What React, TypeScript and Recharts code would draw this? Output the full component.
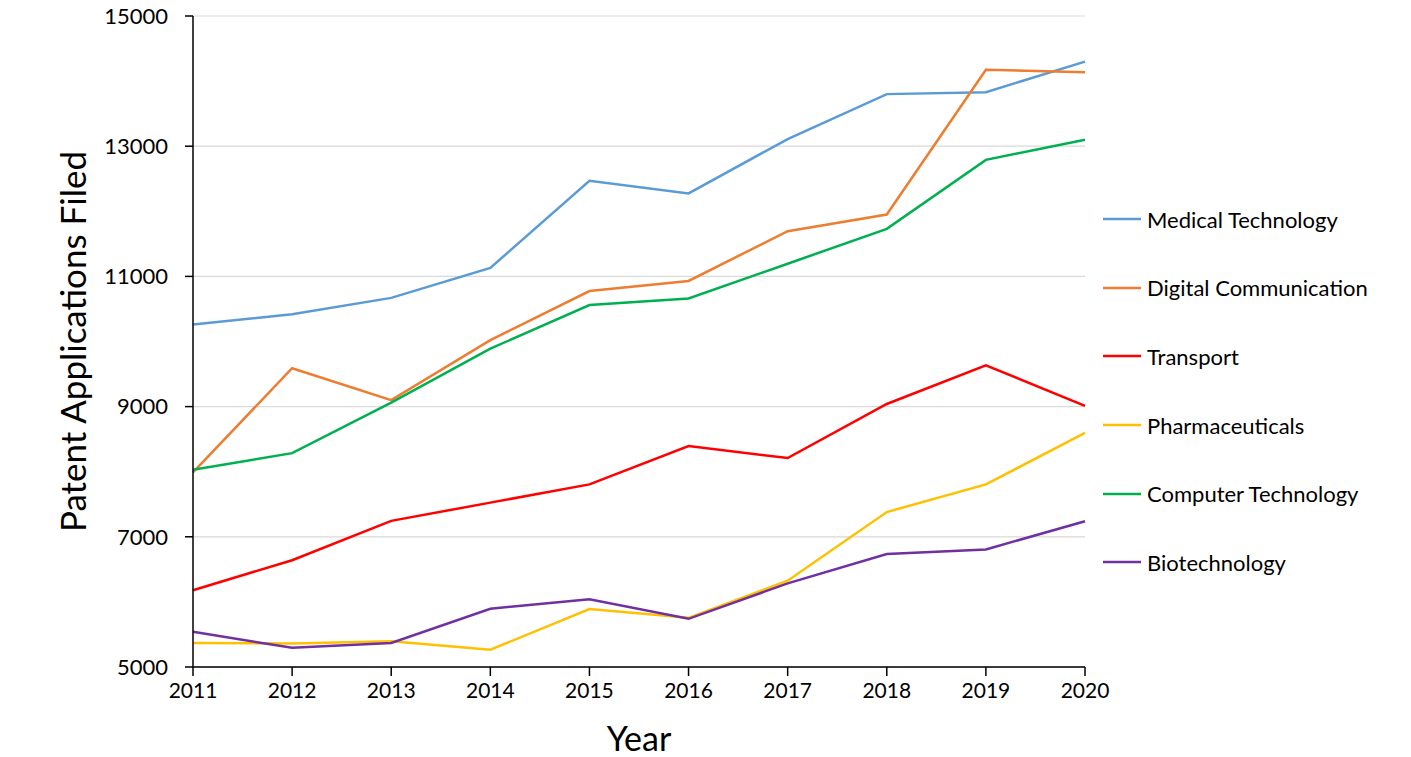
import { LineChart, Line, XAxis, YAxis, CartesianGrid, Legend } from 'recharts'

const years = ['2011', '2012', '2013', '2014', '2015', '2016', '2017', '2018', '2019', '2020']

const medicalTechnology = [10260, 10420, 10670, 11130, 12470, 12275, 13110, 13800, 13830, 14300]
const digitalCommunication = [7990, 9590, 9100, 10020, 10775, 10930, 11695, 11950, 14175, 14135]
const transport = [6180, 6640, 7245, 7525, 7805, 8395, 8210, 9040, 9635, 9010]
const pharmaceuticals = [5370, 5360, 5395, 5265, 5890, 5755, 6325, 7380, 7805, 8595]
const computerTechnology = [8030, 8285, 9060, 9890, 10560, 10660, 11195, 11730, 12790, 13100]
const biotechnology = [5540, 5295, 5370, 5895, 6040, 5740, 6285, 6735, 6805, 7240]

const yTicks = [5000, 7000, 9000, 11000, 13000, 15000]

const series = [
  { key: 'Medical Technology', values: medicalTechnology, color: '#5B9BD5' },
  { key: 'Digital Communication', values: digitalCommunication, color: '#ED7D31' },
  { key: 'Transport', values: transport, color: '#FF0000' },
  { key: 'Pharmaceuticals', values: pharmaceuticals, color: '#FFC000' },
  { key: 'Computer Technology', values: computerTechnology, color: '#00B050' },
  { key: 'Biotechnology', values: biotechnology, color: '#7030A0' },
]

const data = years.map((year, i) => {
  const row: Record<string, string | number> = { year }
  series.forEach(s => { row[s.key] = s.values[i] })
  return row
})

const FONT = 'Lato, "Open Sans", sans-serif'

// keep legend rows in series order instead of alphabetical
const seriesOrder = (item: any) => series.findIndex(s => s.key === item.value)

function LegendContent(props: any) {
  const { payload = [] } = props
  const rows = [...payload].sort((a: any, b: any) => seriesOrder(a) - seriesOrder(b))
  return (
    <div style={{ fontFamily: FONT }}>
      {rows.map((entry: any) => (
        <div
          key={entry.value}
          style={{ height: 68.6, display: 'flex', alignItems: 'center' }}
        >
          <svg width={44} height={4}>
            <line x1={0} y1={2} x2={38} y2={2} stroke={entry.color} strokeWidth={2.5} />
          </svg>
          <span style={{ fontSize: 22, color: '#000', whiteSpace: 'nowrap' }}>{entry.value}</span>
        </div>
      ))}
    </div>
  )
}

function YLabel(props: any) {
  const { viewBox } = props
  const cy = viewBox.y + viewBox.height / 2
  return (
    <text
      x={72}
      y={cy}
      transform={`rotate(-90, 72, ${cy})`}
      textAnchor="middle"
      dominantBaseline="central"
      fontFamily={FONT}
      fontSize={35}
      fill="#000"
    >
      Patent Applications Filed
    </text>
  )
}

function XLabel(props: any) {
  const { viewBox } = props
  const cx = viewBox.x + viewBox.width / 2
  return (
    <text
      x={cx}
      y={737}
      textAnchor="middle"
      dominantBaseline="central"
      fontFamily={FONT}
      fontSize={34}
      fill="#000"
    >
      Year
    </text>
  )
}

export default function App() {
  return (
    <div style={{ position: 'absolute', left: 0, top: 0, width: 1411, height: 757, background: '#fff' }}>
      <LineChart
        width={1411}
        height={757}
        data={data}
        margin={{ top: 16, right: 326, bottom: 0, left: 0 }}
      >
        <CartesianGrid vertical={false} stroke="#d9d9d9" strokeWidth={1.2} />
        <XAxis
          dataKey="year"
          height={90}
          axisLine={{ stroke: '#000', strokeWidth: 1.5 }}
          tickLine={{ stroke: '#000', strokeWidth: 1.5 }}
          tickSize={9}
          tickMargin={7}
          tick={{ fill: '#000', fontSize: 21, fontFamily: FONT }}
          interval={0}
          label={<XLabel />}
        />
        <YAxis
          width={193}
          domain={[5000, 15000]}
          ticks={yTicks}
          allowDataOverflow
          axisLine={{ stroke: '#000', strokeWidth: 1.5 }}
          tickLine={{ stroke: '#000', strokeWidth: 1.5 }}
          tickSize={8}
          tickMargin={17}
          tick={{ fill: '#000', fontSize: 22, fontFamily: FONT }}
          label={<YLabel />}
        />
        <Legend
          layout="vertical"
          align="center"
          verticalAlign="middle"
          content={<LegendContent />}
          wrapperStyle={{ left: 1103, top: 185, width: 300 }}
        />
        {series.map(s => (
          <Line
            key={s.key}
            type="linear"
            dataKey={s.key}
            stroke={s.color}
            strokeWidth={2.5}
            dot={false}
            activeDot={false}
            isAnimationActive={false}
          />
        ))}
      </LineChart>
    </div>
  )
}
